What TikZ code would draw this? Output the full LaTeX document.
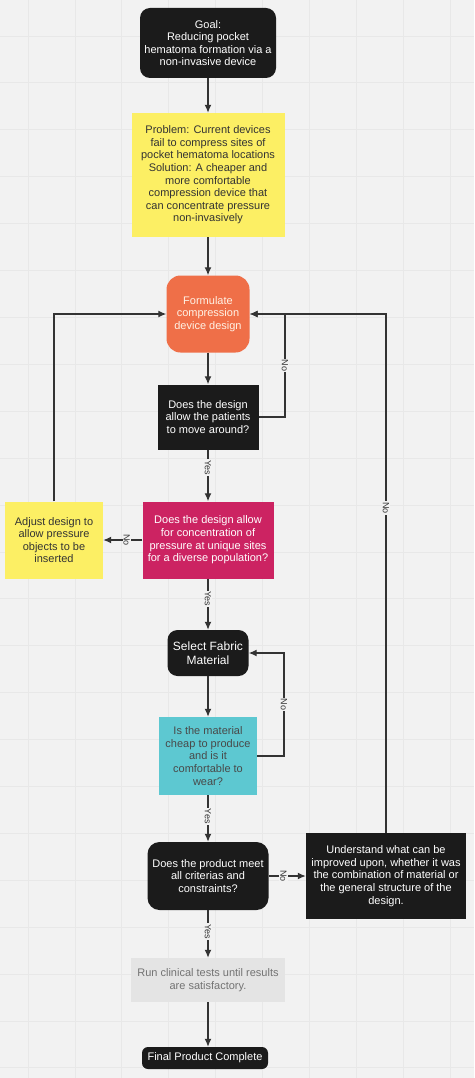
\documentclass[tikz,border=0pt]{standalone}
\usepackage{fontspec}
\setmainfont{Liberation Sans}
\usepackage{tikz}
\usetikzlibrary{shapes,arrows,arrows.meta}
\definecolor{bgcol}{HTML}{F2F2F2}
\definecolor{gridcol}{HTML}{E8E8E8}
\definecolor{linecol}{HTML}{333333}
\definecolor{darkbox}{HTML}{1B1B1B}
\definecolor{yellowbox}{HTML}{FCEF64}
\definecolor{orangebox}{HTML}{EF6F48}
\definecolor{pinkbox}{HTML}{CC2362}
\definecolor{cyanbox}{HTML}{5DC8D1}
\definecolor{graybox}{HTML}{E4E4E4}

\begin{document}
\begin{tikzpicture}[x=1pt,y=-1pt]
      \tikzstyle{point} = [coordinate]
      \tikzstyle{box} = [rectangle, align=center, inner sep=2pt, font=\fontsize{11}{12.6}\selectfont]
      \tikzstyle{dark} = [box, fill=darkbox, text=white]
      \tikzstyle{lbl} = [fill=bgcol, rotate=-90, inner sep=1pt, text=linecol, font=\fontsize{9}{10}\selectfont]
      \tikzstyle{conn} = [draw=linecol, line width=1.3pt, ->, >={Latex[length=8pt,width=7pt]}]
      \useasboundingbox (0,0) rectangle (474,1078);
      % background with grid
      \fill[bgcol] (0,0) rectangle (474,1078);
      \foreach \gx in {28,74.9,...,474} \draw[gridcol, line width=0.8pt] (\gx,0) -- (\gx,1078);
      \foreach \gy in {36,82.9,...,1078} \draw[gridcol, line width=0.8pt] (0,\gy) -- (474,\gy);
      % main column
      \node (goal) [dark, rounded corners=10pt, minimum width=136, minimum height=70] at (208,43)
        {Goal:\\Reducing pocket\\hematoma formation via a\\non-invasive device};
      \node (prob) [box, fill=yellowbox, text=linecol, minimum width=153, minimum height=124] at (208,175)
        {Problem: Current devices\\fail to compress sites of\\pocket hematoma locations\\Solution: A cheaper and\\more comfortable\\compression device that\\can concentrate pressure\\non-invasively};
      \node (form) [box, fill=orangebox, text=orange!10, rounded corners=14pt, minimum width=83, minimum height=77] at (208,314)
        {Formulate\\compression\\device design};
      \node (move) [dark, minimum width=101, minimum height=65] at (208,417)
        {Does the design\\allow the patients\\to move around?};
      \node (conc) [box, fill=pinkbox, text=white, minimum width=131, minimum height=77] at (208,540)
        {Does the design allow\\for concentration of\\pressure at unique sites\\for a diverse population?};
      \node (adjust) [box, fill=yellowbox, text=linecol, minimum width=98, minimum height=77] at (54,540)
        {Adjust design to\\allow pressure\\objects to be\\inserted};
      \node (fabric) [dark, rounded corners=10pt, minimum width=81, minimum height=46, font=\fontsize{12}{14}\selectfont] at (208,653)
        {Select Fabric\\Material};
      \node (cheap) [box, fill=cyanbox, text=darkbox!80, minimum width=98, minimum height=78] at (208,756)
        {Is the material\\cheap to produce\\and is it\\comfortable to\\wear?};
      \node (meet) [dark, rounded corners=12pt, minimum width=121, minimum height=68] at (208,876)
        {Does the product meet\\all criterias and\\constraints?};
      \node (under) [dark, minimum width=160, minimum height=86] at (386,876)
        {Understand what can be\\improved upon, whether it was\\the combination of material or\\the general structure of the\\design.};
      \node (tests) [box, fill=graybox, text=black!55, minimum width=154, minimum height=44] at (208,980)
        {Run clinical tests until results\\are satisfactory.};
      \node (final) [dark, rounded corners=6pt, minimum width=126, minimum height=22] at (205,1058)
        {Final Product Complete};
      % loop points
      \node (m1) [point] at (285,417) {};
      \node (m2) [point] at (285,314) {};
      \node (a1) [point] at (54,314) {};
      \node (f1) [point] at (284,756) {};
      \node (f2) [point] at (284,653) {};
      \node (u1) [point] at (386,314) {};
      % connectors
      \draw [conn] (goal)--(prob);
      \draw [conn] (prob)--(form);
      \draw [conn] (form)--(move);
      \draw [conn] (move.east)--(m1)--node[lbl]{No} (m2)--(form.east);
      \draw [conn] (move)--node[lbl, pos=0.35]{Yes} (conc);
      \draw [conn] (conc)--node[lbl, pos=0.4]{No} (adjust);
      \draw [conn] (adjust)--(a1)--(form.west);
      \draw [conn] (conc)--node[lbl, pos=0.4]{Yes} (fabric);
      \draw [conn] (fabric)--(cheap);
      \draw [conn] (cheap.east)--(f1)--node[lbl]{No} (f2)--(fabric.east);
      \draw [conn] (cheap)--node[lbl, pos=0.45]{Yes} (meet);
      \draw [conn] (meet)--node[lbl, pos=0.4]{No} (under);
      \draw [conn] (under)--node[lbl, pos=0.626]{No} (u1)--(form.east);
      \draw [conn] (meet)--node[lbl, pos=0.45]{Yes} (tests);
      \draw [conn] (tests.south)--(tests.south |- final.north);
\end{tikzpicture}
\end{document}
